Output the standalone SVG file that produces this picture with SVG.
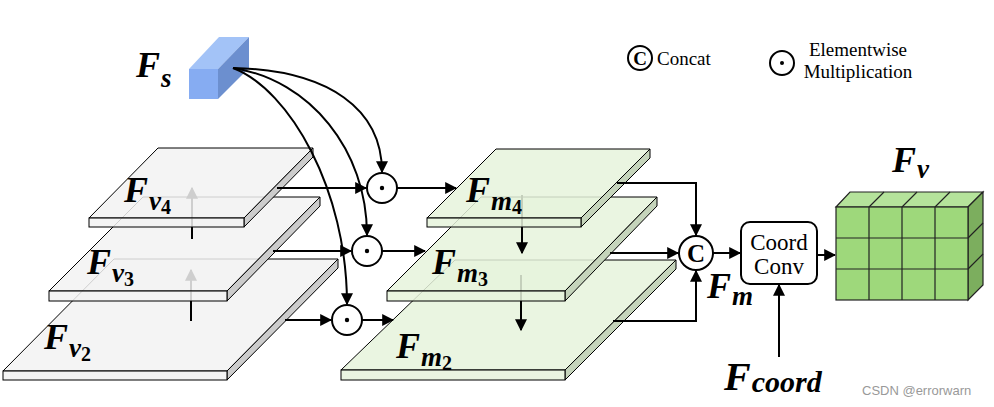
<svg xmlns="http://www.w3.org/2000/svg" width="994" height="407" viewBox="0 0 994 407">
<defs>
<marker id="ah2" viewBox="0 0 10 10" refX="9" refY="5" markerWidth="12" markerHeight="12" orient="auto" markerUnits="userSpaceOnUse"><path d="M0,0L10,5L0,10z" fill="#000"/></marker>
</defs>
<style>
text{font-family:'Liberation Serif','DejaVu Serif',serif}
.gt{fill:#f2f2f2;fill-opacity:.85;stroke:#000;stroke-width:1}
.gs{fill:#cccccc;stroke:#000;stroke-width:1}
.mt{fill:#e6f3dc;fill-opacity:.85;stroke:#000;stroke-width:1}
.ms{fill:#c5d4bb;stroke:#000;stroke-width:1}
.ar{fill:none;stroke:#000;stroke-width:2;marker-end:url(#ah2)}
.op{fill:#fff;stroke:#000;stroke-width:2}
.lb{font-weight:bold;font-style:italic;fill:#000}
.big{font-size:36px}.sub{font-size:27px}.sub2{font-size:20px;font-style:normal}
.cf{fill:#9ed87b;stroke:#222;stroke-width:1.2}
.tx{fill:#000}
</style>

<g id="Fs">
<polygon points="189,69 219,37 249,37 218,69" fill="#a3c3f7"/>
<polygon points="218,69 249,37 249,68 218,99" fill="#6c8fcf"/>
<rect x="189" y="69" width="29" height="30" fill="#86acf2"/>
<text class="lb" x="136" y="77"><tspan class="big">F</tspan><tspan class="sub" dx="1" dy="10">s</tspan></text>
</g>

<g id="Fv2">
<polygon class="gt" points="3,371 114,259 338,259 227,371"/>
<polygon class="gs" points="227,371 338,259 338,268 227,380"/>
<rect class="gt" x="3" y="371" width="224" height="9"/>
<text class="lb" x="44" y="349"><tspan class="big">F</tspan><tspan class="sub" dx="1" dy="8">v</tspan><tspan class="sub2" dy="4">2</tspan></text>
</g>
<g id="arr-v2v3"><line x1="191" y1="321" x2="191" y2="270" class="ar"/></g>
<g id="Fv3">
<polygon class="gt" points="49,291 143,197 320,197 227,291"/>
<polygon class="gs" points="227,291 320,197 320,206 227,301"/>
<rect class="gt" x="49" y="291" width="178" height="10"/>
<text class="lb" x="87" y="274"><tspan class="big">F</tspan><tspan class="sub" dx="1" dy="8">v</tspan><tspan class="sub2" dy="4">3</tspan></text>
</g>
<g id="arr-v3v4"><line x1="192" y1="239" x2="192" y2="188" class="ar"/></g>
<g id="Fv4">
<polygon class="gt" points="89,218 158,148 313,148 244,218"/>
<polygon class="gs" points="244,218 313,148 313,157 244,227"/>
<rect class="gt" x="89" y="218" width="155" height="9"/>
<text class="lb" x="124" y="202"><tspan class="big">F</tspan><tspan class="sub" dx="1" dy="8">v</tspan><tspan class="sub2" dy="4">4</tspan></text>
</g>

<g id="Fm2">
<polygon class="mt" points="341,370 455,260 676,260 565,370"/>
<polygon class="ms" points="565,370 676,260 676,269 565,380"/>
<rect class="mt" x="341" y="370" width="224" height="10"/>
<text class="lb" x="396" y="358"><tspan class="big">F</tspan><tspan class="sub" dx="1" dy="8">m</tspan><tspan class="sub2" dy="4">2</tspan></text>
</g>
<g id="arr-m3m2"><line x1="521" y1="275" x2="521" y2="330" class="ar"/></g>
<g id="Fm3">
<polygon class="mt" points="387,291 481,197 657,197 565,291"/>
<polygon class="ms" points="565,291 657,197 657,206 565,301"/>
<rect class="mt" x="387" y="291" width="178" height="10"/>
<text class="lb" x="432" y="274"><tspan class="big">F</tspan><tspan class="sub" dx="1" dy="8">m</tspan><tspan class="sub2" dy="4">3</tspan></text>
</g>
<g id="arr-m4m3"><line x1="522" y1="195" x2="522" y2="253" class="ar"/></g>
<g id="Fm4">
<polygon class="mt" points="427,218 496,149 650,149 581,218"/>
<polygon class="ms" points="581,218 650,149 650,158 581,227"/>
<rect class="mt" x="427" y="218" width="154" height="9"/>
<text class="lb" x="466" y="202"><tspan class="big">F</tspan><tspan class="sub" dx="1" dy="8">m</tspan><tspan class="sub2" dy="4">4</tspan></text>
</g>

<g id="connectors">
<path class="ar" d="M233,68 C330,70 382,110 382,172"/>
<path class="ar" d="M233,68 C310,80 367,150 367,235"/>
<path class="ar" d="M233,68 C290,90 347,190 347,304"/>
<line class="ar" x1="277" y1="188" x2="366" y2="188"/>
<line class="ar" x1="273" y1="251" x2="351" y2="251"/>
<line class="ar" x1="285" y1="320" x2="331" y2="320"/>
<line class="ar" x1="397" y1="188" x2="456" y2="188"/>
<line class="ar" x1="382" y1="251" x2="425" y2="251"/>
<line class="ar" x1="362" y1="320" x2="393" y2="320"/>
<path class="ar" d="M617,183 H696 V235"/>
<line class="ar" x1="610" y1="253" x2="678" y2="253"/>
<path class="ar" d="M613,321 H696 V271"/>
<line class="ar" x1="713" y1="253" x2="740" y2="253"/>
<line class="ar" x1="817" y1="255" x2="835" y2="255"/>
<line class="ar" x1="779" y1="357" x2="779" y2="285"/>
</g>

<g id="odot1"><circle class="op" cx="382" cy="188" r="15"/><circle cx="382" cy="188" r="2.2"/></g>
<g id="odot2"><circle class="op" cx="367" cy="251" r="15"/><circle cx="367" cy="251" r="2.2"/></g>
<g id="odot3"><circle class="op" cx="347" cy="320" r="15"/><circle cx="347" cy="320" r="2.2"/></g>
<g id="concat"><circle class="op" cx="696" cy="253" r="17"/><text class="tx" x="696" y="262" font-size="25" font-weight="bold" text-anchor="middle">C</text>
<text class="lb" x="707" y="298"><tspan class="big">F</tspan><tspan class="sub" dx="1" dy="7">m</tspan></text></g>

<g id="coordconv">
<rect x="741" y="222" width="76" height="62" rx="9" fill="#fff" stroke="#000" stroke-width="2"/>
<text class="tx" x="779" y="250" font-size="23" text-anchor="middle">Coord</text>
<text class="tx" x="779" y="274" font-size="23" text-anchor="middle">Conv</text>
</g>
<g id="Fcoord"><text class="lb" x="724" y="390"><tspan font-size="40">F</tspan><tspan font-size="30" dx="1" dy="2">coord</tspan></text></g>

<g id="Fv">
<polygon points="836,207 850,192 983,192 968,207" fill="#b5e39b" stroke="#222" stroke-width="1.2"/>
<polygon points="968,207 983,192 983,285 968,300" fill="#7cae5e" stroke="#222" stroke-width="1.2"/>
<path d="M869,207 L884,192 M902,207 L917,192 M935,207 L950,192 M968,238 L983,223 M968,269 L983,254" stroke="#222" stroke-width="1.2"/>
<rect class="cf" x="836" y="207" width="132" height="93"/>
<path d="M869,207V300M902,207V300M935,207V300M836,238H968M836,269H968" stroke="#222" stroke-width="1.2"/>
<text class="lb" x="892" y="172"><tspan class="big">F</tspan><tspan class="sub" dx="1" dy="6">v</tspan></text>
</g>

<g id="legend">
<circle cx="640" cy="58" r="12" fill="#fff" stroke="#000" stroke-width="2"/>
<text class="tx" x="640" y="65" font-size="19" font-weight="bold" text-anchor="middle">C</text>
<text class="tx" x="657" y="65" font-size="19">Concat</text>
<circle cx="782" cy="63" r="12" fill="#fff" stroke="#000" stroke-width="2"/>
<circle cx="782" cy="63" r="2"/>
<text class="tx" x="858" y="56" font-size="19" text-anchor="middle">Elementwise</text>
<text class="tx" x="858" y="78" font-size="19" text-anchor="middle">Multiplication</text>
</g>
<text x="862" y="395" style="font-family:'Liberation Sans',Arial,sans-serif" font-size="13" fill="#999">CSDN @errorwarn</text>
</svg>
